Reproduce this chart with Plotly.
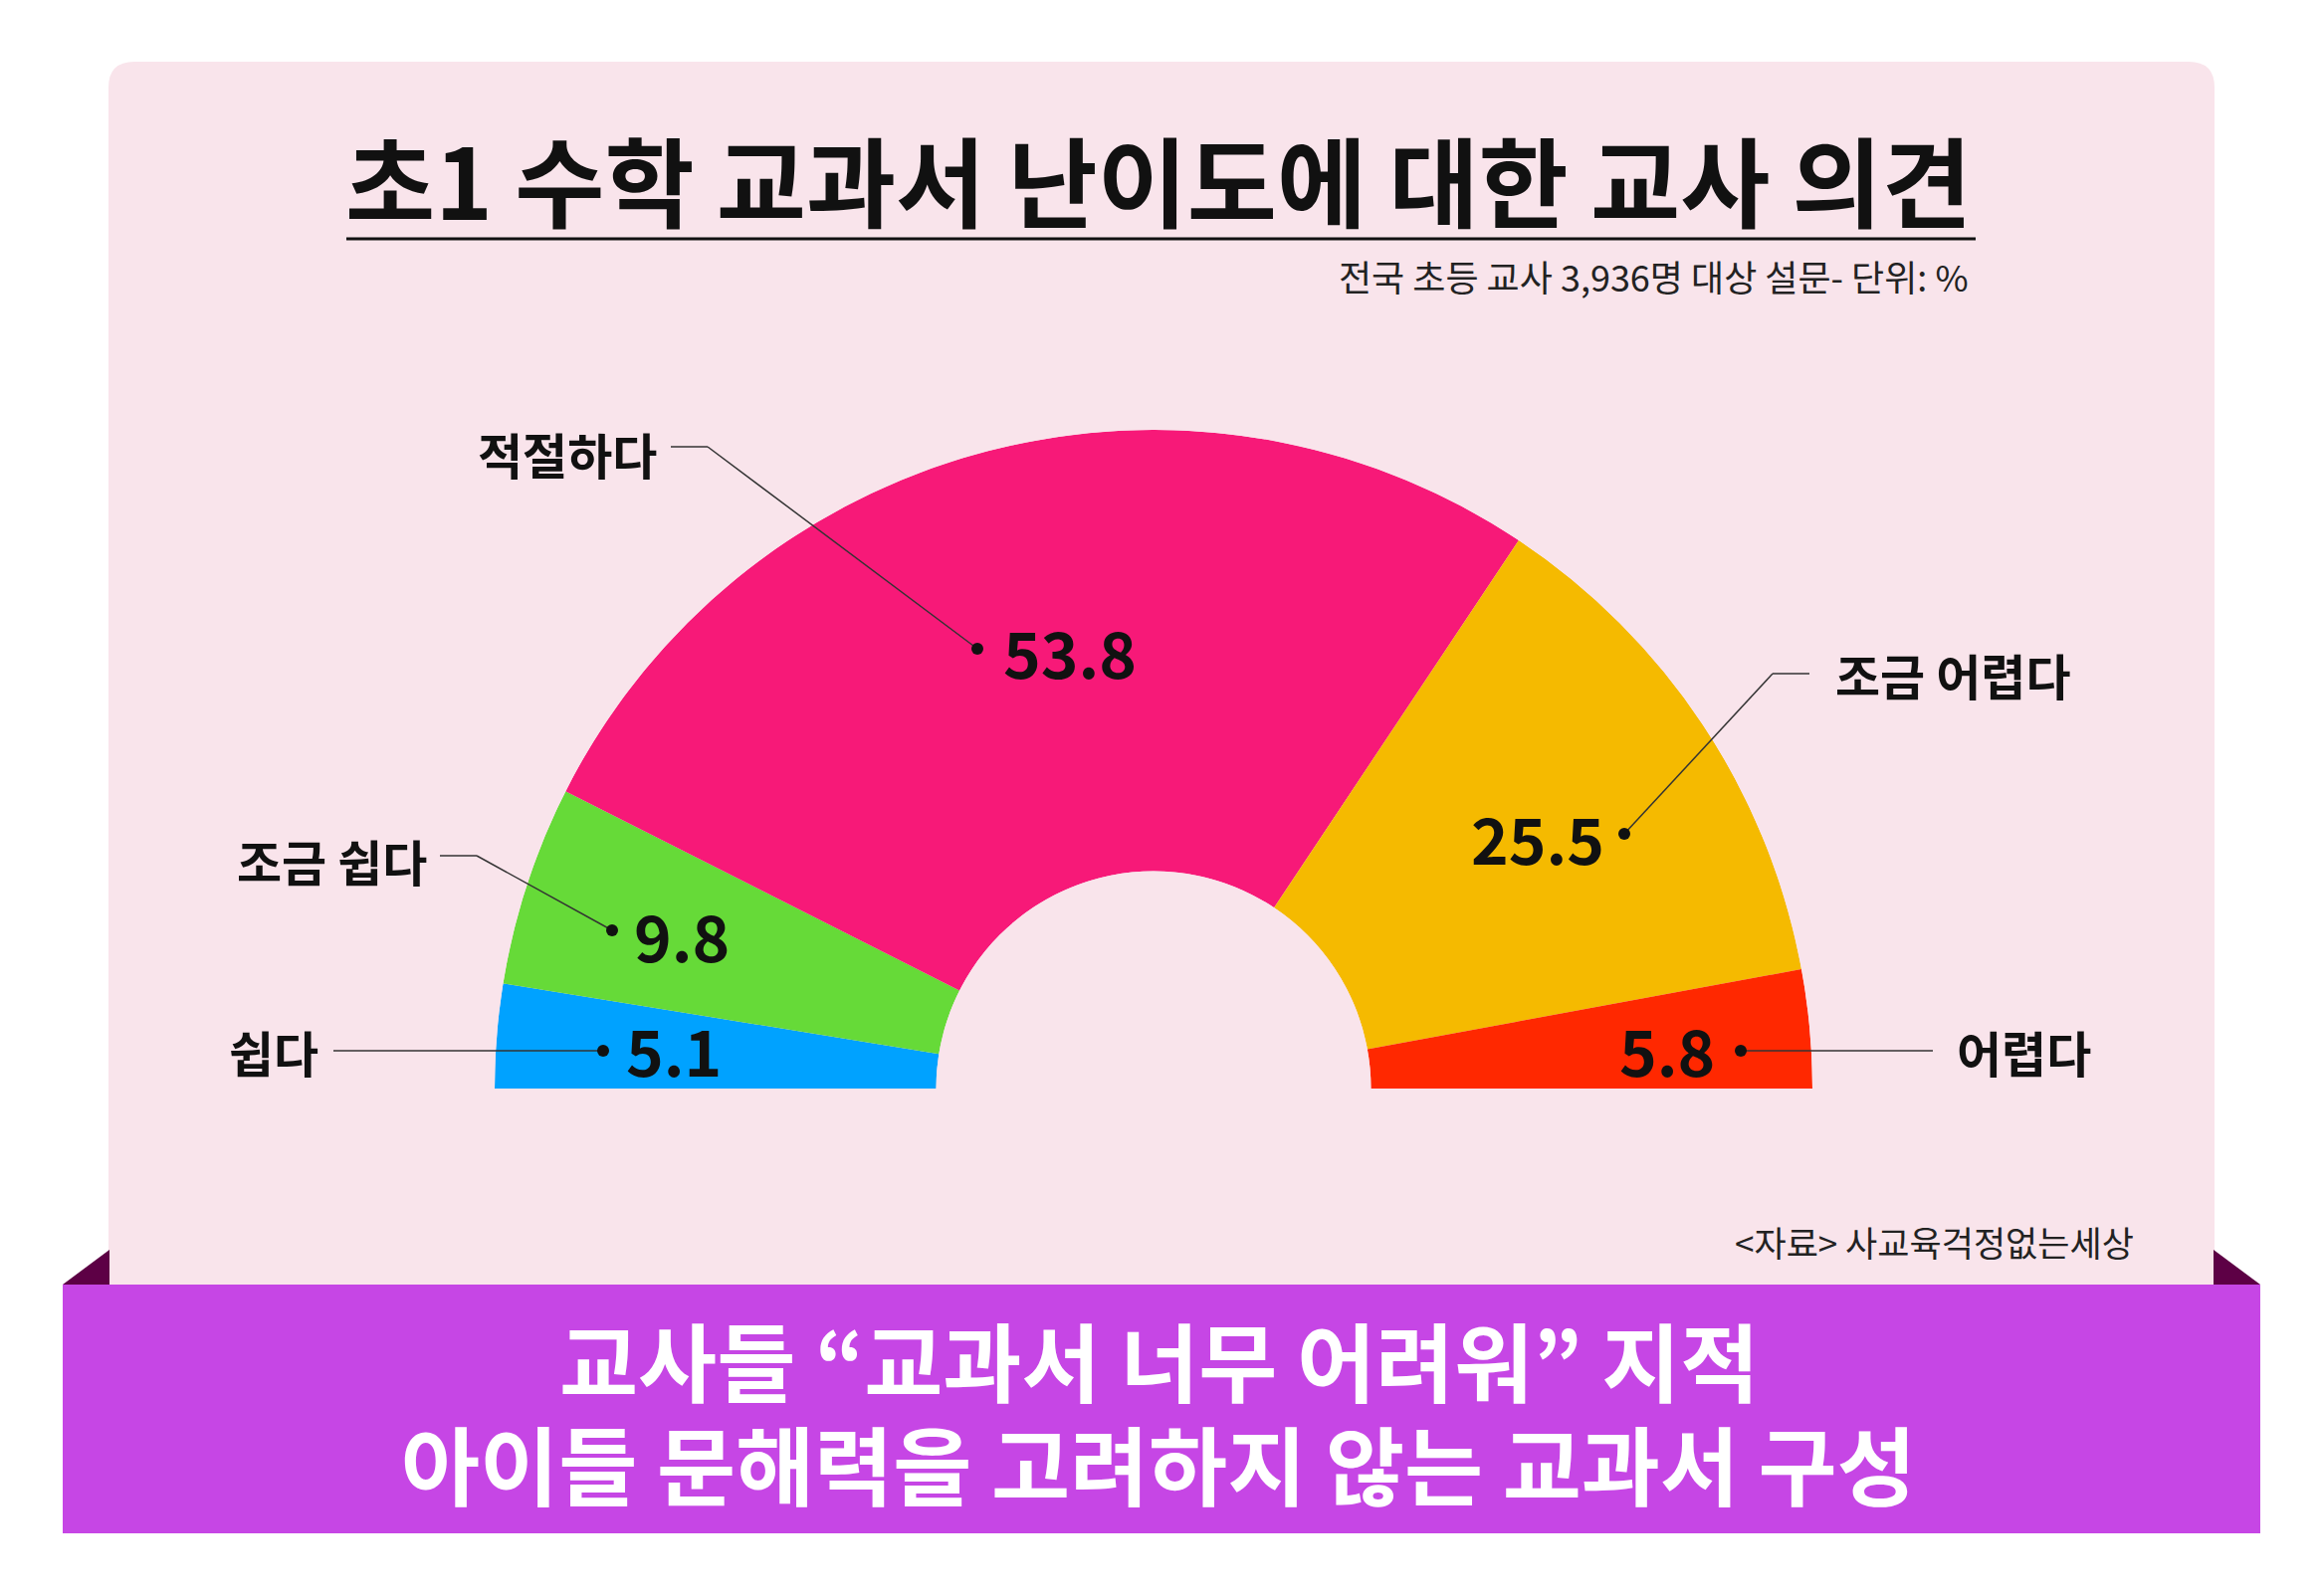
import plotly.graph_objects as go

# ---- data ----
categories = ["쉽다", "조금 쉽다", "적절하다", "조금 어렵다", "어렵다"]
values = [5.1, 9.8, 53.8, 25.5, 5.8]
colors = ["#00A2FF", "#66DA38", "#F71978", "#F5BA00", "#FF2800"]

title = "초1 수학 교과서 난이도에 대한 교사 의견"
subtitle = "전국 초등 교사 3,936명 대상 설문- 단위: %"
source = "<자료> 사교육걱정없는세상"
banner_lines = ["교사들 “교과서 너무 어려워” 지적", "아이들 문해력을 고려하지 않는 교과서 구성"]

W, H = 2333, 1604
FONT = "Noto Sans CJK KR"


def px(x):
    return x / W


def py(y):
    return 1 - y / H


# half-donut geometry (pixels)
CX, CY, R = 1159, 1094, 662
HOLE = 0.33

total = sum(values)
centers, widths = [], []
acc = 0
for v in values:
    widths.append(v / total * 180)
    centers.append((acc + v / 2) / total * 180)
    acc += v

fig = go.Figure()
fig.add_trace(go.Barpolar(
    r=[1] * len(values), theta=centers, width=widths, base=0,
    marker=dict(color=colors, line=dict(width=0)),
    text=categories, hoverinfo="text", showlegend=False,
))

shapes = []
# pink panel with rounded top corners
x0, x1, y0, y1, rr = 109, 2225, 62, 1295, 26
path = (f"M {px(x0)},{py(y1)} L {px(x0)},{py(y0+rr)} "
        f"Q {px(x0)},{py(y0)} {px(x0+rr)},{py(y0)} "
        f"L {px(x1-rr)},{py(y0)} Q {px(x1)},{py(y0)} {px(x1)},{py(y0+rr)} "
        f"L {px(x1)},{py(y1)} Z")
shapes.append(dict(type="path", xref="paper", yref="paper", path=path,
                   fillcolor="#F9E4EB", line=dict(width=0), layer="below"))
# dark fold triangles
shapes.append(dict(type="path", xref="paper", yref="paper",
                   path=f"M {px(63)},{py(1291)} L {px(110)},{py(1256)} L {px(110)},{py(1291)} Z",
                   fillcolor="#5D0045", line=dict(width=0), layer="below"))
shapes.append(dict(type="path", xref="paper", yref="paper",
                   path=f"M {px(2224)},{py(1256)} L {px(2271)},{py(1291)} L {px(2224)},{py(1291)} Z",
                   fillcolor="#5D0045", line=dict(width=0), layer="below"))
# banner
shapes.append(dict(type="rect", xref="paper", yref="paper",
                   x0=px(63), x1=px(2271), y0=py(1541), y1=py(1291),
                   fillcolor="#C646E5", line=dict(width=0), layer="below"))
# title underline
shapes.append(dict(type="line", xref="paper", yref="paper",
                   x0=px(348), x1=px(1985), y0=py(240), y1=py(240),
                   line=dict(color="#111111", width=3)))

# leader lines + dots
leaders = [
    [(606, 1056), (335, 1056)],
    [(615, 935), (479, 860), (442, 860)],
    [(982, 652), (711, 449), (674, 449)],
    [(1632, 838), (1781, 677), (1818, 677)],
    [(1749, 1056), (1942, 1056)],
]
for pts in leaders:
    for (ax, ay), (bx, by) in zip(pts[:-1], pts[1:]):
        shapes.append(dict(type="line", xref="paper", yref="paper",
                           x0=px(ax), y0=py(ay), x1=px(bx), y1=py(by),
                           line=dict(color="#333333", width=1.5)))
    dx, dy = pts[0]
    r = 6
    shapes.append(dict(type="circle", xref="paper", yref="paper",
                       x0=px(dx - r), x1=px(dx + r), y0=py(dy + r), y1=py(dy - r),
                       fillcolor="#111111", line=dict(width=0)))

annotations = []


def ann(text, x, y, size, xanchor="center", color="#111111", weight="normal"):
    annotations.append(dict(text=text, x=px(x), y=py(y), xref="paper", yref="paper",
                            xanchor=xanchor, yanchor="middle", showarrow=False,
                            font=dict(family=FONT, size=size, color=color, weight=weight)))


ann(title, 1164, 178, 98, weight="bold")
ann(subtitle, 1980, 277, 36, xanchor="right", color="#222222")
ann(source, 2146, 1247, 35, xanchor="right", color="#222222")
ann(banner_lines[0], 1164, 1365, 86, color="#FFFFFF", weight="bold")
ann(banner_lines[1], 1164, 1469, 86, color="#FFFFFF", weight="bold")

# category labels
cat_pos = [(322, 1056, "right"), (431, 864, "right"), (662, 455, "right"),
           (1842, 677, "left"), (1964, 1056, "left")]
for c, (x, y, a) in zip(categories, cat_pos):
    ann(c, x, y, 49, xanchor=a, weight="bold")

# value labels
val_pos = [(627, 1054, "left"), (635, 939, "left"), (1006, 654, "left"),
           (1614, 841, "right"), (1725, 1054, "right")]
for v, (x, y, a) in zip(values, val_pos):
    ann(f"{v:.1f}", x, y, 64, xanchor=a, weight="bold")

fig.update_layout(
    width=W, height=H,
    margin=dict(l=0, r=0, t=0, b=0),
    paper_bgcolor="#FFFFFF",
    plot_bgcolor="rgba(0,0,0,0)",
    shapes=shapes,
    annotations=annotations,
    polar=dict(
        domain=dict(x=[px(CX - R), px(CX + R)], y=[py(CY), py(CY - R)]),
        sector=[0, 180],
        hole=HOLE,
        bgcolor="rgba(0,0,0,0)",
        bargap=0,
        radialaxis=dict(visible=False, range=[0, 1]),
        angularaxis=dict(visible=False, direction="clockwise", rotation=180),
    ),
    showlegend=False,
)

fig.write_html("out.html")
